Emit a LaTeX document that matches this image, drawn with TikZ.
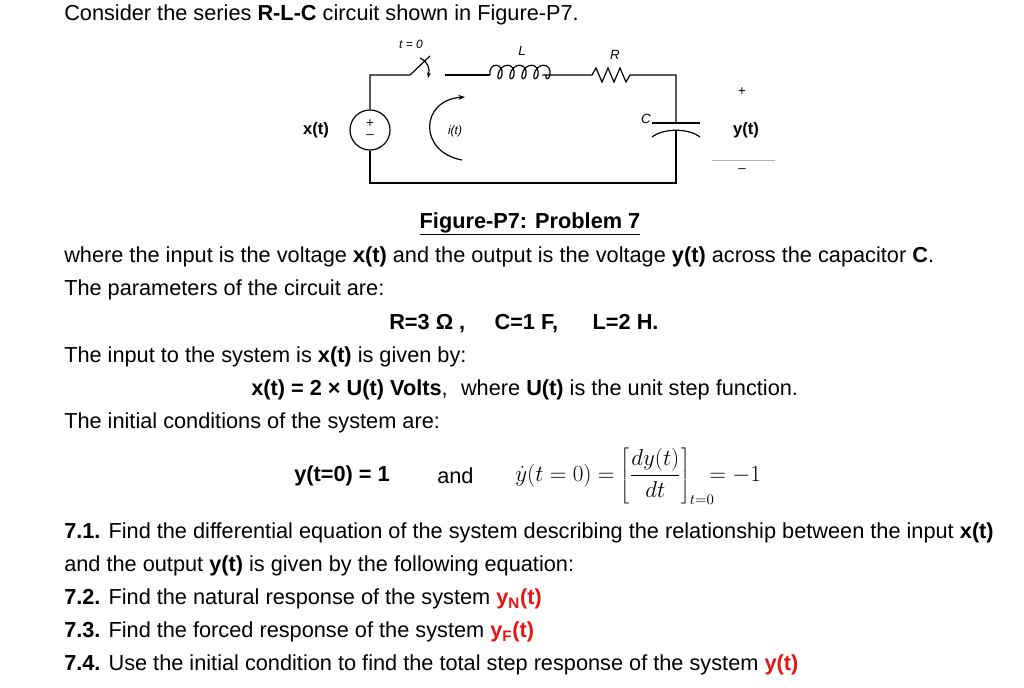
\documentclass[tikz,border=0pt]{standalone}
\usepackage{fontspec}
\setmainfont{Liberation Sans}
\usetikzlibrary{arrows.meta}
\begin{document}
\begin{tikzpicture}[x=0.75pt,y=-0.75pt,
  txt/.style={anchor=west,inner sep=0,font=\fontsize{16.3}{18}\selectfont},
  ctxt/.style={inner sep=0,font=\fontsize{16.3}{18}\selectfont},
  lab/.style={inner sep=0,font=\fontsize{9}{10}\selectfont\itshape},
  wire/.style={line width=0.9pt}]
\useasboundingbox (0,0) rectangle (1024,688);
\definecolor{rd}{RGB}{230,20,20}
% circuit
\coordinate (tl) at (370,75); \coordinate (bl) at (370,183);
\coordinate (tr) at (676,75); \coordinate (br) at (676,183);
\node[draw,circle,wire,minimum size=30pt,inner sep=0] (src) at (370,130) {};
\node[font=\fontsize{10}{10}\selectfont] at (370,124) {+};
\node[font=\fontsize{10}{10}\selectfont] at (370,137) {--};
\draw[wire] (src.north) -- (tl) -- (410,75) -- (430,56);
\draw[wire,-{Stealth[length=4pt]}] (420,58) .. controls (428,62) and (430,68) .. (428,78);
\coordinate (sw) at (445,75);
\draw[wire] (sw) -- (490,75);
\draw[wire] (490,75)
  \foreach \i in {0,1,2,3,4} { .. controls (488+\i*12,62) and (504+\i*12,62) .. (502+\i*12,75)
     .. controls (501+\i*12,80) and (497+\i*12,80) .. (498+\i*12,75) }
  .. controls (540,75) .. (553,75);
\draw[wire] (553,75) -- (592,75)
  -- (596,68) -- (602,82) -- (608,68) -- (614,82) -- (620,68) -- (626,82) -- (630,75) -- (tr) -- (676,123);
\draw[wire] (652,123) -- (700,123);
\draw[wire] (652,137) .. controls (664,128) and (688,128) .. (700,137);
\draw[wire] (676,131) -- (br) -- (bl) -- (src.south);
\draw[wire,-{Stealth[length=5pt]}] (462,160) .. controls (418,152) and (420,100) .. (465,97);
\node[lab] at (411,44) {t = 0};
\node[lab,font=\fontsize{10}{10}\selectfont\itshape] at (522,51) {L};
\node[lab,font=\fontsize{10}{10}\selectfont\itshape] at (615,55) {R};
\node[lab,font=\fontsize{10}{10}\selectfont\itshape] at (646,119) {C};
\node[lab] at (455,131) {i(t)};
\node[font=\bfseries\fontsize{12.5}{13}\selectfont] at (316,130) {x(t)};
\node[font=\bfseries\fontsize{12.5}{13}\selectfont] at (746,130) {y(t)};
\node[font=\fontsize{10}{10}\selectfont] at (742,92) {+};
\node[font=\fontsize{10}{10}\selectfont] at (742,171) {--};
\draw[gray!60] (712,160) -- (775,160);
% text
\node[txt] at (64,15) {Consider the series \textbf{R-L-C} circuit shown in Figure-P7.};
\node[ctxt,font=\bfseries\fontsize{16.3}{18}\selectfont] at (530,224) {\underline{Figure-P7: Problem 7}};
\node[txt] at (64,257) {where the input is the voltage \textbf{x(t)} and the output is the voltage \textbf{y(t)} across the capacitor \textbf{C}.};
\node[txt] at (64,290) {The parameters of the circuit are:};
\node[txt] at (389,324) {\textbf{R=3 Ω ,}\hspace{22pt}\textbf{C=1 F,}\hspace{26pt}\textbf{L=2 H.}};
\node[txt] at (64,357) {The input to the system is \textbf{x(t)} is given by:};
\node[txt] at (251,390) {\textbf{x(t) = 2 × U(t) Volts},\hspace{10pt}where \textbf{U(t)} is the unit step function.};
\node[txt] at (64,423) {The initial conditions of the system are:};
\node[txt] at (294,476) {\textbf{y(t=0) = 1}};
\node[txt] at (437,476) {and};
\node[txt] at (515,476) {$\displaystyle \dot y(t=0)=\left[\frac{dy(t)}{dt}\right]_{t=0}\!\!\!=-1$};
\node[txt] at (64,533) {\textbf{7.1.} Find the differential equation of the system describing the relationship between the input \textbf{x(t)}};
\node[txt] at (64,566) {and the output \textbf{y(t)} is given by the following equation:};
\node[txt] at (64,599) {\textbf{7.2.} Find the natural response of the system \textcolor{rd}{\textbf{y\textsubscript{N}(t)}}};
\node[txt] at (64,632) {\textbf{7.3.} Find the forced response of the system \textcolor{rd}{\textbf{y\textsubscript{F}(t)}}};
\node[txt] at (64,665) {\textbf{7.4.} Use the initial condition to find the total step response of the system \textcolor{rd}{\textbf{y(t)}}};
\end{tikzpicture}
\end{document}
